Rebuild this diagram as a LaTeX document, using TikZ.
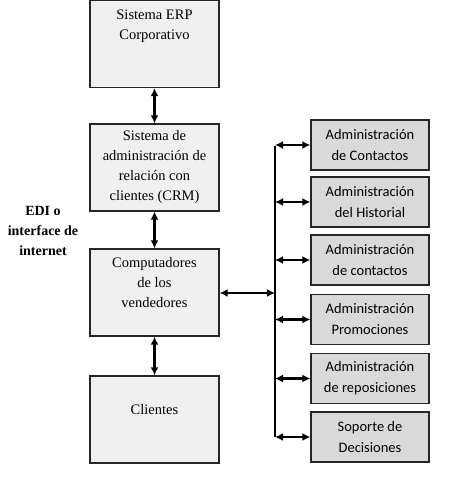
\documentclass[tikz,border=0pt]{standalone}
\usepackage{fontspec}
\setmainfont{Liberation Serif}
\newfontfamily\calfont{Carlito}
\usetikzlibrary{positioning,arrows.meta}

\begin{document}
\begin{tikzpicture}[x=1pt,y=-1pt,
    leftbox/.style={draw=black!85, line width=1.3pt, fill=black!6, minimum width=129pt, minimum height=87pt},
    lefttext/.style={align=center, font=\fontsize{14.5}{20}\selectfont, inner sep=0pt},
    rightbox/.style={draw=black!85, line width=1.3pt, fill=black!15, minimum width=118pt, minimum height=50pt,
      align=center, font=\calfont\fontsize{14.5}{21}\selectfont},
    link/.style={{Latex[length=8pt,width=8pt]}-{Latex[length=8pt,width=8pt]}, line width=2.2pt}]
        % marco de la figura
        \useasboundingbox (0,0) rectangle (474,481);

        % columna izquierda
        \node[leftbox] (erp) at (154.5,44) {};
        \node[lefttext, below=10pt of erp.north] (erptext) {Sistema ERP\\Corporativo};

        \node[leftbox] (crm) at (154.5,167.5) {};
        \node[lefttext] (crmtext) at (crm.center) {Sistema de\\administración de\\relación con\\clientes (CRM)};

        \node[leftbox] (vend) at (154.5,292.5) {};
        \node[lefttext, below=9pt of vend.north] (vendtext) {Computadores\\de los\\vendedores};

        \node[leftbox] (cli) at (154.5,419.5) {};
        \node[lefttext] (clitext) at (154.5,410) {Clientes};

        % texto lateral
        \node[align=center, font=\bfseries\fontsize{14}{20}\selectfont] (edi) at (43,231) {EDI o\\interface de\\internet};

        % columna derecha
        \node[rightbox] (contactos) at (370,145) {Administración\\de Contactos};
        \node[rightbox] (historial) at (370,202) {Administración\\del Historial};
        \node[rightbox] (contactos2) at (370,260) {Administración\\de contactos};
        \node[rightbox] (promo) at (370,319.5) {Administración\\Promociones};
        \node[rightbox] (repos) at (370,378.5) {Administración\\de reposiciones};
        \node[rightbox] (soporte) at (370,437) {Soporte de\\Decisiones};

        % flechas verticales
        \draw[link] (erp) -- (crm);
        \draw[link] (crm) -- (vend);
        \draw[link] (vend) -- (cli);

        % bus de conexion
        \coordinate (bustop) at (275,146);
        \coordinate (busbot) at (275,437);
        \coordinate (busmid) at (275,293);
        \draw[line width=1.3pt] (bustop) -- (busbot);
        \draw[link] (vend.east |- busmid) -- (busmid);

        \draw[link] (contactos.west -| bustop) -- (contactos);
        \draw[link] (historial.west -| bustop) -- (historial);
        \draw[link] (contactos2.west -| bustop) -- (contactos2);
        \draw[link] (promo.west -| bustop) -- (promo);
        \draw[link] (repos.west -| bustop) -- (repos);
        \draw[link] (busbot) -- (soporte);
      \end{tikzpicture}
\end{document}
